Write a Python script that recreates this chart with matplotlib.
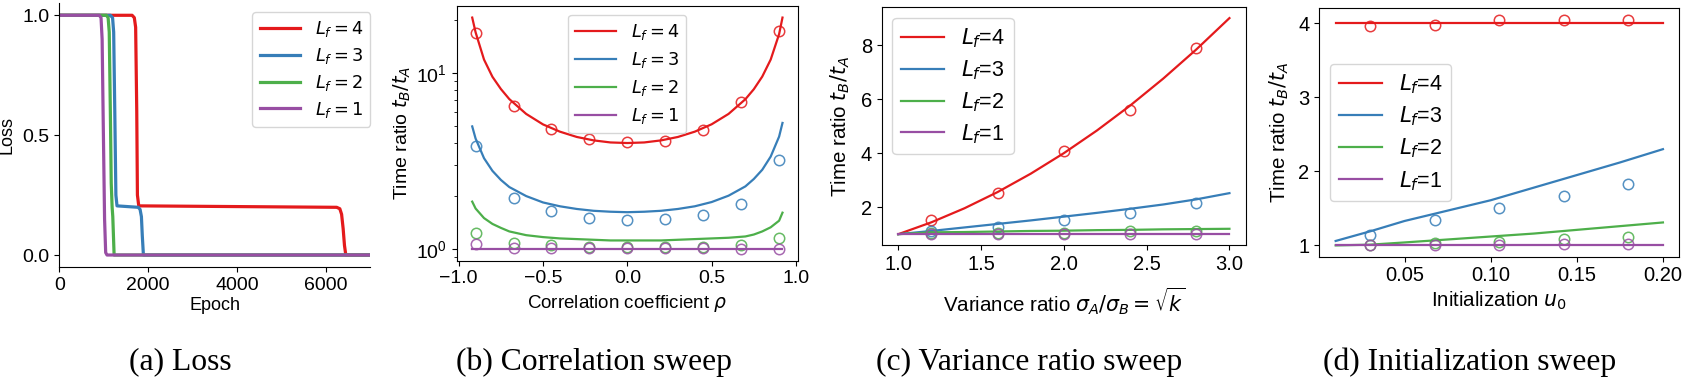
import matplotlib
matplotlib.use("Agg")
import matplotlib.pyplot as plt

plt.rcParams['font.family'] = ['Liberation Sans', 'DejaVu Sans']
plt.rcParams['mathtext.fontset'] = 'dejavusans'

colors = ['#e41a1c', '#377eb8', '#4daf4a', '#984ea3']
lf_levels = [4, 3, 2, 1]

# ---------------- (a) Loss curves ----------------
epoch_red = [0, 1640, 1690, 1720, 1745, 1760, 1790, 6250, 6320, 6360, 6395, 6425, 6455, 7000]
loss_red = [1.0, 1.0, 0.99, 0.95, 0.6, 0.25, 0.205, 0.199, 0.193, 0.17, 0.11, 0.04, 0.0, 0.0]
epoch_blue = [0, 1150, 1200, 1225, 1250, 1275, 1300, 1780, 1820, 1850, 1870, 1895, 7000]
loss_blue = [1.0, 1.0, 0.99, 0.93, 0.6, 0.25, 0.205, 0.199, 0.19, 0.16, 0.08, 0.0, 0.0]
epoch_green = [0, 1060, 1100, 1125, 1150, 1170, 1190, 1205, 1235, 7000]
loss_green = [1.0, 1.0, 0.99, 0.93, 0.6, 0.3, 0.2, 0.16, 0.0, 0.0]
epoch_purple = [0, 900, 940, 965, 990, 1020, 1045, 1075, 7000]
loss_purple = [1.0, 1.0, 0.99, 0.9, 0.55, 0.15, 0.01, 0.0, 0.0]

# ---------------- (b) Correlation sweep ----------------
rho_fit = [-0.92, -0.9, -0.85, -0.8, -0.75, -0.7, -0.6, -0.5, -0.4, -0.3, -0.2, -0.1, 0.0,
           0.1, 0.2, 0.3, 0.4, 0.5, 0.6, 0.7, 0.75, 0.8, 0.85, 0.9, 0.92]
corr_fit_4 = [20.6, 17.0, 11.9, 9.5, 8.1, 7.1, 5.85, 5.1, 4.64, 4.33, 4.14, 4.03, 4.0,
              4.03, 4.14, 4.33, 4.64, 5.11, 5.85, 7.09, 8.08, 9.53, 11.9, 16.6, 20.6]
corr_fit_3 = [4.97, 4.24, 3.28, 2.78, 2.47, 2.25, 2.00, 1.84, 1.75, 1.69, 1.65, 1.63, 1.62,
              1.63, 1.65, 1.69, 1.75, 1.85, 2.01, 2.27, 2.50, 2.82, 3.35, 4.35, 5.2]
corr_fit_2 = [1.86, 1.70, 1.50, 1.39, 1.32, 1.26, 1.20, 1.17, 1.15, 1.14, 1.13, 1.12, 1.12,
              1.12, 1.12, 1.13, 1.14, 1.15, 1.16, 1.18, 1.21, 1.26, 1.33, 1.45, 1.61]
corr_fit_1 = [1.0] * 25
rho_pts = [-0.9, -0.675, -0.45, -0.225, 0.0, 0.225, 0.45, 0.675, 0.9]
corr_pts_4 = [16.9, 6.46, 4.83, 4.22, 4.03, 4.09, 4.72, 6.81, 17.2]
corr_pts_3 = [3.83, 1.96, 1.64, 1.51, 1.47, 1.49, 1.56, 1.80, 3.22]
corr_pts_2 = [1.24, 1.08, 1.05, 1.03, 1.03, 1.03, 1.03, 1.05, 1.15]
corr_pts_1 = [1.07, 1.02, 1.01, 1.01, 1.01, 1.01, 1.01, 1.0, 1.0]

# ---------------- (c) Variance ratio sweep ----------------
sig_fit = [1.0, 1.2, 1.4, 1.6, 1.8, 2.0, 2.2, 2.4, 2.6, 2.8, 3.0]
var_fit_4 = [1.0, 1.44, 1.96, 2.56, 3.24, 4.0, 4.84, 5.76, 6.76, 7.84, 9.0]
var_fit_3 = [1.0, 1.12, 1.25, 1.38, 1.51, 1.65, 1.79, 1.94, 2.10, 2.29, 2.52]
var_fit_2 = [1.0, 1.07, 1.08, 1.10, 1.12, 1.13, 1.15, 1.16, 1.18, 1.19, 1.20]
var_fit_1 = [1.0] * 11
sig_pts = [1.2, 1.6, 2.0, 2.4, 2.8]
var_pts_4 = [1.53, 2.52, 4.09, 5.6, 7.88]
var_pts_3 = [1.11, 1.26, 1.51, 1.78, 2.15]
var_pts_2 = [1.03, 1.03, 1.05, 1.10, 1.13]
var_pts_1 = [1.0, 1.0, 1.0, 1.0, 1.0]

# ---------------- (d) Initialization sweep ----------------
u_fit = [0.01, 0.03, 0.05, 0.075, 0.1, 0.125, 0.15, 0.175, 0.2]
init_fit_4 = [4.0, 4.0, 4.0, 4.0, 4.0, 4.0, 4.0, 4.0, 4.0]
init_fit_3 = [1.06, 1.19, 1.33, 1.47, 1.61, 1.78, 1.95, 2.12, 2.30]
init_fit_2 = [1.0, 1.01, 1.04, 1.08, 1.12, 1.16, 1.21, 1.26, 1.31]
init_fit_1 = [1.0] * 9
u_pts = [0.03, 0.0675, 0.105, 0.1425, 0.18]
init_pts_4 = [3.97, 3.98, 4.05, 4.05, 4.04]
init_pts_3 = [1.14, 1.34, 1.50, 1.67, 1.83]
init_pts_2 = [1.0, 1.03, 1.05, 1.08, 1.11]
init_pts_1 = [1.0, 1.0, 1.01, 1.02, 1.02]

captions = ['(a) Loss', '(b) Correlation sweep', '(c) Variance ratio sweep', '(d) Initialization sweep']

W, H = 1686, 379
fig = plt.figure(figsize=(W / 100, H / 100), dpi=100)


def axes_px(l, r, t, b):
    return fig.add_axes([l / W, (H - b) / H, (r - l) / W, (b - t) / H])


# (a)
axA = axes_px(59.3, 370, 3.3, 267)
for ep, ls, c, lf in zip([epoch_red, epoch_blue, epoch_green, epoch_purple],
                         [loss_red, loss_blue, loss_green, loss_purple], colors, lf_levels):
    axA.plot(ep, ls, color=c, lw=2.3, label=f'$L_f = {lf}$')
axA.set_xlim(0, 7000)
axA.set_ylim(-0.05, 1.05)
axA.set_xticks([0, 2000, 4000, 6000])
axA.set_yticks([0.0, 0.5, 1.0])
axA.spines['top'].set_visible(False)
axA.spines['right'].set_visible(False)
axA.tick_params(labelsize=14)
axA.set_xlabel('Epoch', fontsize=13, labelpad=2)
axA.set_ylabel('Loss', fontsize=13)
axA.yaxis.set_label_coords((16 - 59.3) / 310.7, 0.5)
axA.legend(loc='upper right', fontsize=12.8, bbox_to_anchor=(1.03, 1.0),
           handlelength=2.3, labelspacing=0.38)


def sweep(ax, xf, fits, xp, pts, labfmt):
    for f, p, c, lf in zip(fits, pts, colors, lf_levels):
        ax.plot(xf, f, color=c, lw=1.6, label=labfmt.format(lf))
        ax.plot(xp, p, linestyle='none', marker='o', ms=7.5, mfc='none', mec=c,
                mew=1.1, alpha=0.85)


# (b)
axB = axes_px(456.7, 798, 6, 260.7)
sweep(axB, rho_fit, [corr_fit_4, corr_fit_3, corr_fit_2, corr_fit_1], rho_pts,
      [corr_pts_4, corr_pts_3, corr_pts_2, corr_pts_1], '$L_f = {}$')
axB.set_yscale('log')
axB.set_xticks([-1.0, -0.5, 0.0, 0.5, 1.0])
axB.tick_params(labelsize=14)
axB.set_xlabel(r'Correlation coefficient $\rho$', fontsize=13.5, labelpad=4)
axB.set_ylabel(r'Time ratio $t_B/t_A$', fontsize=14)
axB.yaxis.set_label_coords((413 - 456.7) / 341.3, 0.5)
axB.legend(loc='upper center', fontsize=12.8, handlelength=2.3, labelspacing=0.45)

# (c)
axC = axes_px(881.7, 1246, 7.3, 245)
sweep(axC, sig_fit, [var_fit_4, var_fit_3, var_fit_2, var_fit_1], sig_pts,
      [var_pts_4, var_pts_3, var_pts_2, var_pts_1], '$L_f$={}')
axC.set_xticks([1.0, 1.5, 2.0, 2.5, 3.0])
axC.set_yticks([2, 4, 6, 8])
axC.tick_params(labelsize=14.5)
axC.set_xlabel(r'Variance ratio $\sigma_A/\sigma_B = \sqrt{k}$', fontsize=14.8, labelpad=8)
axC.set_ylabel(r'Time ratio $t_B/t_A$', fontsize=14.8)
axC.yaxis.set_label_coords((852 - 881.7) / 364.3, 0.5)
axC.legend(loc='upper left', fontsize=15.5, labelspacing=0.38)

# (d)
axD = axes_px(1319.3, 1679.3, 8.3, 256.7)
sweep(axD, u_fit, [init_fit_4, init_fit_3, init_fit_2, init_fit_1], u_pts,
      [init_pts_4, init_pts_3, init_pts_2, init_pts_1], '$L_f$={}')
axD.set_xticks([0.05, 0.10, 0.15, 0.20])
axD.set_yticks([1, 2, 3, 4])
axD.tick_params(labelsize=14.5)
axD.set_xlabel(r'Initialization $u_0$', fontsize=14.8, labelpad=3)
axD.set_ylabel(r'Time ratio $t_B/t_A$', fontsize=14.8)
axD.yaxis.set_label_coords((1291 - 1319.3) / 360, 0.5)
axD.legend(loc='center left', fontsize=15.5, labelspacing=0.4)

cap_x = [180, 594, 1029, 1470]
for cx, cap in zip(cap_x, captions):
    fig.text(cx / W, (H - 362) / H, cap, ha='center', va='center',
             fontsize=22.8, family='Liberation Serif')

fig.savefig('out.png', dpi=100)
